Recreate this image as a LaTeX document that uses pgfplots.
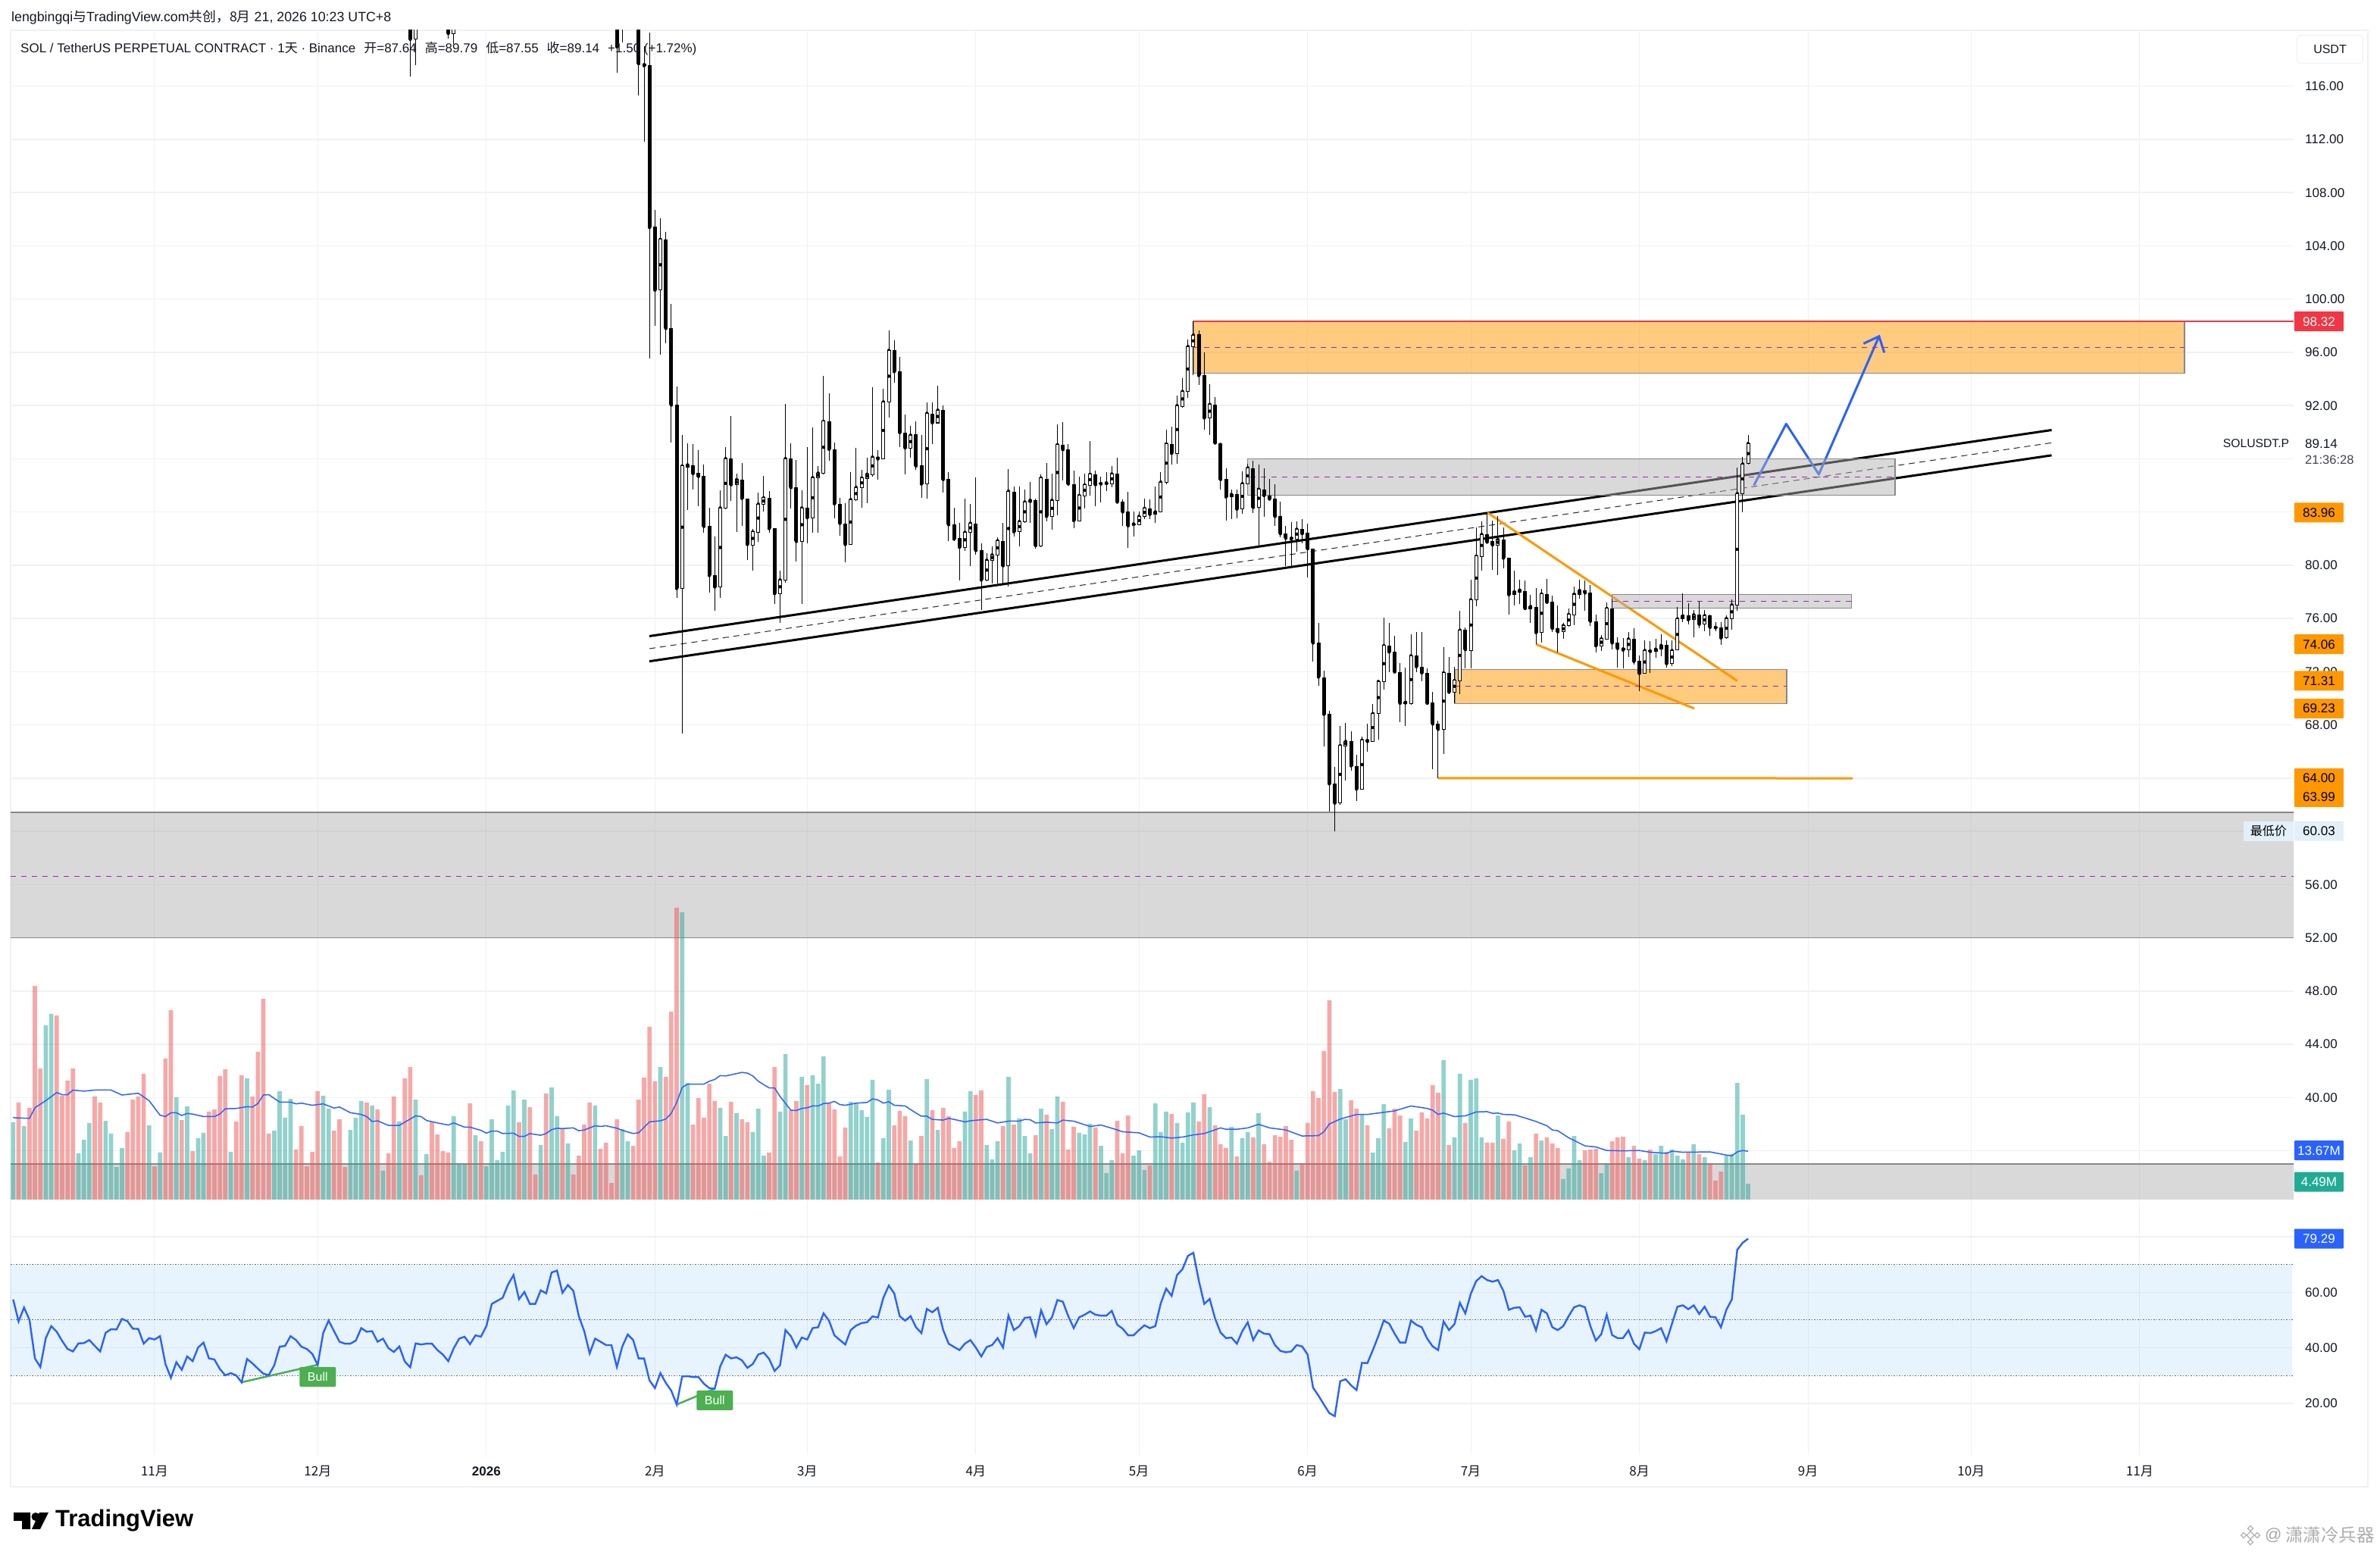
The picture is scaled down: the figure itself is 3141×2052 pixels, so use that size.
\documentclass[border=0pt]{standalone}
\usepackage{fontspec}
\setmainfont{Liberation Sans}
\newfontfamily\cjk{Noto Sans CJK SC}
\usepackage{pgfplots}
\usepackage{pgfplotstable}
\pgfplotsset{compat=1.18}
\usetikzlibrary{arrows.meta}
\definecolor{gridc}{HTML}{EFF1F4}
\definecolor{txt}{HTML}{131722}
\definecolor{tvred}{HTML}{EF5350}
\definecolor{tvteal}{HTML}{26A69A}
\definecolor{tvblue}{HTML}{2962FF}
\definecolor{tvorange}{HTML}{FF9800}
\definecolor{tagred}{HTML}{F23645}
\definecolor{tagteal}{HTML}{22AB94}
\definecolor{lowbg}{HTML}{E3EFF9}
\definecolor{rectg}{HTML}{B0B0B0}
\definecolor{rectb}{HTML}{888888}
\definecolor{purp}{HTML}{9C27B0}
\definecolor{bull}{HTML}{4CAF50}
\definecolor{band}{HTML}{2196F3}
\newcommand{\axf}{\fontsize{17}{20}\selectfont}

\pgfplotstableread[row sep=\\]{d o h l c\\
47 121 122 116.74 119.53\\ 54 121 122 119.6 119.97\\ 85 122 123 117.03 118.96\\ 89 122 123 115.3 117.69\\ 90 117.69 119 111.8 117.54\\ 91 117.58 120 95.56 105.39\\ 92 105.45 106.7 98.0 100.68\\ 94 104.48 105.05 96.66 97.8\\ 95 97.8 99.64 89.24 92.04\\ 96 92.04 93.43 77.53 78.26\\ 99 87.52 89.11 85.71 86.89\\ 100 86.92 88.67 84.41 86.68\\ 101 86.71 87.54 82.45 82.92\\ 102 82.94 84.35 77.95 79.23\\ 103 79.23 82.18 76.59 78.37\\ 106 88.01 91.23 84.85 86.05\\ 108 86.42 87.67 82.97 85.03\\ 109 85.03 85.03 80.41 81.56\\ 113 85.06 85.58 82.45 82.76\\ 114 82.76 82.76 77.09 77.87\\ 117 88.01 89.19 84.27 85.84\\ 118 85.84 87.9 80.27 81.79\\ 120 84.3 88.85 81.66 83.57\\ 124 90.81 92.9 87.88 88.72\\ 125 88.72 89.24 83.54 84.62\\ 126 84.62 85.06 82.24 83.15\\ 127 83.15 84.67 80.22 81.56\\ 133 88.12 88.67 86.45 87.99\\ 136 96.14 96.9 93.74 94.55\\ 137 94.55 95.65 88.85 89.97\\ 138 89.97 91.33 86.84 88.82\\ 140 89.82 90.81 87.15 87.46\\ 141 87.52 89.77 85.06 86.11\\ 143 91.41 92.25 89.11 90.71\\ 145 91.65 91.99 85.45 86.45\\ 146 86.47 86.97 81.79 83.05\\ 147 83.05 84.35 81.79 81.97\\ 148 82.03 83.18 78.84 81.35\\ 151 83.15 86.58 80.77 81.11\\ 152 81.11 81.66 76.64 78.89\\ 156 81.84 83.18 78.65 79.96\\ 158 85.5 85.9 82.13 82.52\\ 162 84.88 85.01 81.27 81.48\\ 164 86.47 87.67 83.31 83.67\\ 167 89.06 90.73 86.37 88.69\\ 168 88.69 89.11 86.11 86.11\\ 169 86.11 87.1 82.79 83.36\\ 173 86.84 87.1 84.41 86.05\\ 174 86.16 86.63 84.72 86.11\\ 177 86.86 88.07 84.75 84.75\\ 178 84.75 84.93 82.97 84.01\\ 179 84.01 85.5 81.32 82.97\\ 183 84.27 84.93 83.49 83.83\\ 187 89.11 90.42 87.54 88.41\\ 192 97.35 97.66 93.56 94.26\\ 193 94.26 95.99 90.21 91.07\\ 195 92.09 92.64 89.19 89.19\\ 196 89.19 89.24 85.71 86.45\\ 197 86.47 87.28 83.33 85.14\\ 199 85.32 85.71 83.54 84.22\\ 202 87.31 87.88 83.94 84.35\\ 204 85.71 87.28 83.62 85.24\\ 205 85.24 86.5 84.98 84.98\\ 206 84.98 86.11 82.97 83.67\\ 207 83.67 84.8 82.1 82.37\\ 208 82.37 82.97 79.96 82.03\\ 209 82.1 83.23 79.96 81.97\\ 211 82.7 83.44 81.66 82.37\\ 212 82.45 83.1 79.1 81.24\\ 213 81.24 81.24 72.77 74.16\\ 214 74.16 75.65 70.94 71.6\\ 215 71.54 72.07 66.37 68.8\\ 216 68.85 69.06 61.48 63.57\\ 217 63.57 64.85 60.03 62.13\\ 220 66.76 67.54 64.54 64.93\\ 221 64.93 65.77 62.31 63.18\\ 223 66.89 68.07 65.97 66.76\\ 227 73.95 75.65 71.94 73.48\\ 228 73.48 74.68 71.99 71.99\\ 229 71.99 72.64 68.2 69.63\\ 232 73.19 75 71.94 72.38\\ 233 72.38 75 71.26 71.91\\ 234 71.91 72.25 69.63 69.63\\ 235 69.69 70.47 64.67 68.07\\ 236 68.07 68.33 64.0 67.67\\ 238 71.91 73.11 70.29 70.47\\ 241 75.17 75.33 72.25 73.66\\ 245 82.31 83.96 81.74 81.74\\ 246 81.79 83.36 79.65 81.53\\ 248 81.92 82.84 79.78 80.54\\ 249 80.54 80.54 76.27 77.79\\ 252 78.05 78.86 76.7 76.75\\ 254 76.88 78.26 74.06 74.94\\ 256 77.84 78.99 77.22 77.22\\ 257 77.27 77.69 75.0 75.26\\ 258 75.26 76.95 73.43 75\\ 263 78.1 78.86 76.56 77.92\\ 264 77.92 78.52 75.44 75.8\\ 265 75.8 76.3 73.43 73.95\\ 268 76.73 77.49 73.69 74.16\\ 269 74.16 74.58 72.3 73.75\\ 270 73.78 74.5 72.26 73.63\\ 272 74.45 75.24 72.55 72.78\\ 273 72.8 73.21 70.56 71.87\\ 275 73.59 74.3 71.92 73.52\\ 278 73.99 74.35 72.32 72.61\\ 282 76.21 77.14 75.57 75.91\\ 284 76.27 77.3 75.28 75.57\\ 286 76.21 76.29 74.68 75.34\\ 287 75.36 75.72 75.05 75.3\\ 288 75.3 75.72 74.03 74.54\\
}\candledown

\pgfplotstableread[row sep=\\]{d o h l c\\
48 119.53 121 117.58 121\\ 55 119.95 121 119.2 121\\ 86 121 122 119.3 122\\ 93 100.68 106.06 95.84 104.48\\ 97 78.26 89.77 67.33 87.46\\ 98 87.36 89.16 84.14 87.54\\ 104 78.37 85.63 77.53 84.3\\ 105 84.3 88.85 84.22 88.01\\ 107 86.05 86.9 82.5 86.42\\ 110 81.53 82.7 79.62 82.5\\ 111 82.5 85.45 81.74 84.59\\ 112 84.59 86.71 84.01 85.06\\ 115 77.87 79.62 75.65 78.89\\ 116 78.89 92.12 78.71 88.01\\ 119 81.79 85.63 77.09 84.3\\ 121 83.57 90.34 82.45 86.58\\ 122 86.58 87.46 82.45 86.92\\ 123 86.92 94.21 86.84 90.81\\ 128 81.56 86.97 81.53 84.93\\ 129 84.93 88.82 84.85 85.84\\ 130 85.84 87.15 84.33 86.55\\ 131 86.55 88.07 84.67 86.84\\ 132 86.81 93.37 86.68 88.12\\ 134 87.99 93.24 87.99 92.27\\ 135 92.27 97.66 91.12 96.14\\ 139 88.82 90.47 88.07 89.77\\ 142 86.11 92.25 85.01 91.41\\ 144 90.71 93.5 90.71 91.65\\ 149 81.35 85.01 81.08 82.47\\ 150 82.47 84.59 79.91 83.15\\ 153 78.89 80.93 78.79 80.38\\ 154 80.38 81.4 78.65 80.77\\ 155 80.77 82.1 78.65 81.84\\ 157 79.96 87.23 78.39 85.56\\ 159 82.52 85.9 81.4 83.28\\ 160 83.28 85.66 83.18 84.75\\ 161 84.75 86.24 83.18 84.88\\ 163 81.48 86.84 81.35 86.55\\ 165 83.67 86.89 82.65 84.88\\ 166 84.88 90.6 83.75 89.06\\ 170 83.36 86.63 83.36 85.24\\ 171 85.24 86.89 84.27 86.03\\ 172 86.03 89.32 85.24 86.84\\ 175 86.13 87 85.6 86.18\\ 176 86.13 87.46 85.84 86.86\\ 180 83.05 84.01 82.13 83.1\\ 181 83.05 84.01 83 83.67\\ 182 83.67 85.01 83.44 84.27\\ 184 83.83 85.92 83.18 84.01\\ 185 84.01 86.97 84.01 86.24\\ 186 86.24 90.16 86.11 89.11\\ 188 88.41 92.77 87.6 91.99\\ 189 91.94 94.08 91.86 93.06\\ 190 93.06 96.95 92.59 96.43\\ 191 96.43 98.32 94.26 97.29\\ 194 91.07 93.63 89.77 92.09\\ 198 85.14 85.71 83.49 85.32\\ 200 84.22 87.07 83.88 86.13\\ 201 86.13 87.62 86.13 87.31\\ 203 84.35 87.54 81.45 85.71\\ 210 81.97 83.28 81 82.7\\ 218 62.13 67.94 62 66.44\\ 219 66.44 68.14 63.83 66.76\\ 222 63.18 67.15 63.18 66.86\\ 224 66.76 69.58 66.7 68.85\\ 225 68.85 71.3 66.89 71.26\\ 226 71.26 76.04 70.68 73.95\\ 230 69.63 72.3 67.94 69.7\\ 231 69.63 74.81 69.5 73.19\\ 237 67.67 73.87 65.84 71.91\\ 239 70.47 72.38 69.63 71.33\\ 240 71.33 76.56 70.29 75.12\\ 242 73.61 78.92 72.25 77.4\\ 243 77.4 82.84 76.9 80.67\\ 244 80.67 83.28 79.57 82.31\\ 247 81.53 83.7 79.23 81.92\\ 250 77.79 79.62 76.95 78\\ 251 78 78.92 77.09 78.13\\ 253 76.75 77.79 75.65 76.9\\ 255 74.94 78.2 74.21 77.84\\ 259 75 75.65 74.47 75.46\\ 260 75.46 76.75 75.4 76.3\\ 261 76.3 78.39 75.5 77.82\\ 262 77.82 78.92 77.48 78.1\\ 266 73.95 74.73 73.56 74.47\\ 267 74.47 77.22 74.47 76.75\\ 271 73.65 74.98 73.12 74.45\\ 274 71.87 74.35 71.87 73.59\\ 276 73.53 74.45 73.06 73.69\\ 277 73.73 74.79 73.18 73.97\\ 279 72.61 74.35 72.44 73.59\\ 280 73.63 76.86 73.6 75.97\\ 281 75.97 77.86 75.74 76.19\\ 283 75.91 76.63 74.6 76.27\\ 285 75.57 76.63 75.05 76.21\\ 289 74.54 76.21 74.47 75.99\\ 290 75.99 77.43 75.17 77.01\\ 291 77.01 87.36 76.57 85.38\\ 292 85.38 88.12 84.0 87.6\\ 293 87.64 89.79 87.55 89.14\\
}\candleup

\pgfplotstableread[row sep=\\]{d v\\
-26 21.9\\ -24 20.8\\ -20 49.3\\ -19 52.6\\ -14 13.1\\ -13 16.9\\ -12 21.7\\ -9 22.3\\ -8 18.7\\ -7 9.2\\ -6 14.6\\ -1 21.0\\ 1 13.3\\ 4 29.0\\ 6 26.4\\ 8 17.4\\ 9 18.9\\ 14 13.5\\ 17 34.3\\ 22 19.5\\ 23 30.7\\ 24 23.2\\ 25 28.5\\ 31 29.4\\ 32 25.7\\ 36 19.7\\ 37 23.2\\ 38 27.9\\ 40 26.6\\ 42 8.2\\ 45 22.1\\ 48 28.3\\ 50 12.9\\ 55 23.6\\ 56 10.1\\ 57 9.9\\ 59 18.2\\ 61 9.4\\ 62 22.7\\ 63 11.2\\ 64 13.5\\ 65 26.6\\ 66 30.9\\ 68 28.3\\ 71 15.4\\ 73 31.7\\ 74 23.6\\ 76 15.9\\ 81 26.6\\ 86 19.9\\ 87 16.5\\ 93 37.5\\ 97 81.3\\ 98 33.0\\ 104 26.0\\ 105 18.0\\ 107 24.5\\ 110 19.1\\ 111 25.7\\ 112 12.4\\ 115 24.9\\ 116 41.2\\ 119 34.7\\ 121 35.2\\ 122 32.8\\ 123 40.5\\ 128 27.7\\ 129 27.2\\ 130 25.3\\ 131 23.4\\ 132 33.9\\ 134 17.4\\ 135 31.1\\ 139 16.7\\ 142 34.1\\ 144 19.7\\ 149 24.9\\ 150 30.7\\ 153 15.4\\ 154 11.4\\ 155 16.5\\ 157 34.7\\ 159 23.0\\ 160 18.0\\ 161 13.1\\ 163 25.7\\ 165 19.9\\ 166 29.2\\ 170 18.9\\ 171 18.4\\ 172 21.5\\ 174 15.2\\ 175 7.5\\ 176 11.2\\ 180 12.4\\ 181 13.9\\ 182 8.4\\ 184 27.2\\ 185 19.1\\ 186 24.9\\ 188 21.7\\ 189 16.1\\ 190 24.7\\ 191 27.5\\ 194 26.2\\ 198 20.6\\ 200 17.4\\ 201 19.1\\ 203 24.5\\ 210 8.2\\ 218 31.3\\ 219 22.7\\ 222 24.0\\ 224 13.3\\ 225 17.4\\ 226 27.0\\ 230 16.3\\ 231 23.0\\ 237 39.5\\ 239 17.6\\ 240 35.6\\ 242 33.9\\ 243 34.3\\ 244 17.6\\ 247 23.8\\ 250 13.9\\ 251 15.9\\ 253 12.0\\ 255 16.7\\ 259 5.8\\ 260 8.8\\ 261 18.0\\ 262 11.2\\ 266 7.5\\ 267 10.1\\ 271 12.0\\ 274 11.2\\ 276 12.9\\ 277 15.2\\ 279 14.2\\ 280 12.4\\ 281 11.4\\ 283 15.7\\ 285 12.0\\ 289 12.4\\ 290 12.9\\ 291 33.0\\ 292 24.0\\ 293 4.49\\
}\volup

\pgfplotstableread[row sep=\\]{d v\\
-25 27.5\\ -23 26.0\\ -22 60.5\\ -21 37.1\\ -18 52.1\\ -17 29.4\\ -16 33.7\\ -15 37.1\\ -11 29.2\\ -10 27.5\\ -5 19.1\\ -4 28.3\\ -3 29.2\\ -2 35.6\\ 0 9.4\\ 2 39.9\\ 3 53.6\\ 5 22.5\\ 7 13.7\\ 10 24.9\\ 11 25.5\\ 12 35.0\\ 13 36.9\\ 15 22.1\\ 16 35.2\\ 18 29.2\\ 19 41.8\\ 20 56.8\\ 21 18.7\\ 26 14.2\\ 27 20.8\\ 28 9.4\\ 29 13.5\\ 30 30.7\\ 33 19.5\\ 34 22.7\\ 35 9.2\\ 39 27.5\\ 41 25.5\\ 43 13.1\\ 44 29.2\\ 46 34.3\\ 47 37.5\\ 49 6.9\\ 51 22.1\\ 52 18.4\\ 53 13.7\\ 54 13.3\\ 58 27.2\\ 60 16.5\\ 67 21.9\\ 69 26.2\\ 70 7.1\\ 72 30.0\\ 75 19.9\\ 77 7.1\\ 78 12.4\\ 79 21.2\\ 80 27.5\\ 82 14.4\\ 83 16.1\\ 84 4.7\\ 85 22.7\\ 88 15.2\\ 89 28.3\\ 90 34.5\\ 91 48.9\\ 92 33.5\\ 94 34.7\\ 95 53.2\\ 96 82.6\\ 99 21.2\\ 100 28.7\\ 101 23.2\\ 102 32.8\\ 103 27.9\\ 106 27.7\\ 108 22.7\\ 109 21.9\\ 113 13.3\\ 114 37.5\\ 117 25.3\\ 118 27.9\\ 120 32.4\\ 124 27.2\\ 125 25.5\\ 126 12.2\\ 127 20.4\\ 133 10.5\\ 136 21.0\\ 137 25.1\\ 138 23.6\\ 140 10.1\\ 141 18.0\\ 143 25.3\\ 145 26.0\\ 146 23.6\\ 147 14.6\\ 148 16.5\\ 151 29.6\\ 152 30.9\\ 156 20.8\\ 158 21.2\\ 162 18.2\\ 164 24.0\\ 167 27.7\\ 168 14.2\\ 169 20.6\\ 173 20.4\\ 177 22.3\\ 178 13.1\\ 179 23.8\\ 183 9.7\\ 187 24.2\\ 192 22.1\\ 193 29.8\\ 195 21.0\\ 196 15.7\\ 197 14.6\\ 199 12.2\\ 202 17.6\\ 204 15.7\\ 205 10.7\\ 206 18.2\\ 207 17.8\\ 208 20.8\\ 209 16.9\\ 211 10.1\\ 212 21.7\\ 213 30.7\\ 214 28.7\\ 215 42.0\\ 216 56.4\\ 217 30.5\\ 220 28.1\\ 221 25.7\\ 223 21.0\\ 227 20.2\\ 228 25.7\\ 229 23.8\\ 232 19.5\\ 233 24.7\\ 234 23.0\\ 235 32.4\\ 236 30.2\\ 238 15.4\\ 241 21.7\\ 245 16.1\\ 246 16.1\\ 248 17.2\\ 249 22.1\\ 252 9.7\\ 254 18.7\\ 256 17.6\\ 257 15.9\\ 258 14.6\\ 263 13.9\\ 264 14.2\\ 265 14.4\\ 268 16.5\\ 269 17.6\\ 270 17.8\\ 272 15.2\\ 273 11.6\\ 275 14.2\\ 278 13.5\\ 282 13.5\\ 284 12.9\\ 286 10.1\\ 287 5.4\\ 288 7.9\\
}\voldown

\pgfplotstableread[row sep=\\]{d m\\
-26 23.2\\ -25 23.1\\ -23 23.0\\ -22 26.0\\ -20 28.0\\ -18 30.3\\ -17 29.7\\ -16 29.7\\ -15 31.0\\ -13 30.7\\ -11 31.0\\ -8 31.0\\ -6 29.6\\ -3 30.1\\ -1 28.0\\ 1 23.9\\ 2 23.5\\ 3 24.6\\ 4 24.6\\ 5 23.8\\ 6 24.4\\ 7 24.2\\ 9 23.5\\ 11 23.5\\ 12 24.2\\ 13 25.7\\ 15 25.8\\ 17 26.3\\ 18 26.2\\ 19 27.2\\ 20 29.6\\ 21 29.7\\ 23 27.6\\ 25 27.6\\ 26 27.1\\ 27 27.3\\ 29 26.7\\ 31 27.1\\ 33 25.9\\ 34 26.2\\ 36 24.6\\ 38 24.1\\ 39 23.5\\ 40 22.1\\ 41 22.3\\ 43 21.0\\ 45 21.0\\ 48 23.7\\ 49 23.5\\ 50 22.4\\ 52 21.7\\ 54 21.1\\ 55 21.7\\ 57 20.5\\ 58 20.5\\ 60 19.6\\ 61 18.8\\ 62 19.4\\ 63 19.4\\ 64 18.7\\ 66 18.8\\ 67 17.9\\ 68 17.9\\ 69 18.7\\ 71 18.2\\ 72 18.7\\ 73 19.8\\ 74 20.2\\ 75 20.1\\ 77 20.3\\ 78 19.5\\ 79 19.7\\ 81 20.9\\ 82 20.7\\ 83 20.9\\ 85 20.2\\ 86 19.6\\ 88 18.7\\ 89 18.9\\ 91 22.0\\ 93 22.3\\ 94 22.8\\ 95 24.4\\ 96 27.5\\ 97 31.7\\ 98 32.7\\ 101 32.7\\ 102 33.5\\ 103 34.0\\ 104 35.1\\ 105 35.0\\ 108 36.0\\ 109 35.8\\ 110 35.0\\ 111 33.5\\ 113 31.6\\ 114 31.6\\ 115 29.2\\ 117 25.3\\ 118 25.2\\ 119 25.8\\ 120 26.0\\ 121 26.5\\ 122 26.5\\ 123 27.2\\ 124 27.3\\ 125 27.8\\ 126 26.9\\ 127 26.7\\ 129 27.3\\ 131 27.5\\ 132 28.5\\ 133 28.2\\ 134 27.3\\ 135 27.7\\ 136 26.7\\ 138 26.5\\ 140 24.5\\ 141 23.6\\ 142 23.6\\ 143 22.7\\ 145 22.5\\ 146 23.0\\ 147 22.7\\ 149 22.0\\ 150 22.3\\ 152 22.6\\ 153 22.7\\ 155 21.7\\ 157 22.2\\ 159 22.2\\ 160 22.7\\ 161 22.6\\ 162 21.7\\ 164 21.9\\ 166 21.7\\ 167 22.5\\ 169 22.2\\ 171 21.2\\ 172 20.7\\ 174 21.1\\ 176 20.2\\ 178 19.2\\ 181 18.9\\ 183 17.7\\ 185 17.8\\ 187 17.4\\ 189 17.7\\ 191 18.3\\ 193 18.7\\ 196 20.3\\ 197 19.9\\ 199 19.9\\ 201 20.3\\ 203 21.3\\ 205 20.3\\ 208 19.7\\ 211 18.0\\ 214 18.1\\ 215 19.2\\ 216 21.4\\ 218 22.8\\ 221 24.1\\ 223 24.1\\ 225 24.5\\ 228 25.1\\ 231 26.5\\ 234 25.8\\ 235 25.3\\ 236 24.1\\ 237 24.5\\ 239 23.5\\ 241 23.7\\ 243 24.8\\ 245 24.9\\ 246 24.4\\ 247 24.5\\ 248 24.1\\ 250 24.0\\ 252 23.1\\ 254 22.1\\ 256 20.9\\ 257 19.7\\ 258 19.5\\ 260 17.5\\ 263 15.2\\ 265 14.9\\ 267 13.9\\ 270 13.8\\ 273 13.9\\ 275 13.4\\ 278 13.1\\ 279 13.7\\ 281 13.4\\ 286 13.5\\ 289 12.6\\ 290 12.4\\ 291 13.5\\ 292 13.9\\ 293 13.67\\
}\volma

\pgfplotstableread[row sep=\\]{d r\\
-26 57.4\\ -25 49.5\\ -24 54.5\\ -23 50.1\\ -22 36.2\\ -21 33.1\\ -20 43.5\\ -19 47.8\\ -18 45.8\\ -17 42.5\\ -16 39.6\\ -15 38.7\\ -14 41.6\\ -13 41.7\\ -12 42.8\\ -11 40.7\\ -10 38.7\\ -9 45.4\\ -8 46.7\\ -7 46.6\\ -6 50.4\\ -5 49.6\\ -4 46.9\\ -3 46.8\\ -2 41.5\\ -1 43.5\\ 0 43.0\\ 1 44.2\\ 2 34.2\\ 3 29.2\\ 4 34.8\\ 5 32.1\\ 6 36.9\\ 7 35.2\\ 8 40.1\\ 9 41.9\\ 10 36.2\\ 11 35.8\\ 12 32.4\\ 13 30.1\\ 14 30.9\\ 15 30.1\\ 16 27.6\\ 17 36.0\\ 18 34.4\\ 19 32.5\\ 20 30.7\\ 21 30.2\\ 22 33.7\\ 23 40.4\\ 24 40.7\\ 25 44.2\\ 26 42.8\\ 27 40.4\\ 28 39.6\\ 29 37.8\\ 30 33.9\\ 31 45.3\\ 32 49.8\\ 33 46.0\\ 34 42.2\\ 35 41.5\\ 36 41.5\\ 37 42.6\\ 38 47.1\\ 39 45.8\\ 40 46.0\\ 41 42.2\\ 42 43.3\\ 43 39.9\\ 44 38.5\\ 45 40.5\\ 46 35.1\\ 47 33.0\\ 48 41.6\\ 49 41.2\\ 50 41.5\\ 51 41.5\\ 52 39.2\\ 53 37.6\\ 54 35.2\\ 55 39.8\\ 56 43.3\\ 57 44.0\\ 58 41.3\\ 59 44.5\\ 60 44.0\\ 61 47.8\\ 62 55.8\\ 63 56.9\\ 64 58.0\\ 65 62.8\\ 66 66.2\\ 67 57.5\\ 68 60.1\\ 69 55.8\\ 70 55.8\\ 71 60.7\\ 72 59.6\\ 73 67.1\\ 74 67.8\\ 75 59.8\\ 76 62.6\\ 77 60.5\\ 78 51.4\\ 79 46.0\\ 80 38.0\\ 81 43.3\\ 82 42.2\\ 83 41.0\\ 84 41.0\\ 85 33.1\\ 86 40.5\\ 87 44.8\\ 88 42.8\\ 89 36.2\\ 90 36.2\\ 91 28.3\\ 92 25.5\\ 93 30.9\\ 94 27.4\\ 95 24.6\\ 96 19.6\\ 97 29.7\\ 98 29.8\\ 99 29.5\\ 100 29.5\\ 101 27.1\\ 102 25.5\\ 103 25.3\\ 104 33.3\\ 105 37.5\\ 106 36.2\\ 107 36.6\\ 108 35.5\\ 109 32.8\\ 110 34.2\\ 111 37.6\\ 112 38.3\\ 113 36.0\\ 114 31.7\\ 115 33.7\\ 116 46.4\\ 117 44.2\\ 118 40.1\\ 119 43.7\\ 120 43.0\\ 121 47.1\\ 122 47.4\\ 123 52.4\\ 124 49.8\\ 125 44.5\\ 126 42.8\\ 127 41.2\\ 128 46.4\\ 129 48.0\\ 130 48.9\\ 131 49.2\\ 132 51.3\\ 133 50.9\\ 134 58.0\\ 135 62.4\\ 136 59.6\\ 137 51.4\\ 138 49.8\\ 139 51.4\\ 140 47.4\\ 141 45.3\\ 142 54.0\\ 143 52.8\\ 144 54.4\\ 145 46.4\\ 146 41.5\\ 147 40.3\\ 148 39.2\\ 149 41.5\\ 150 42.8\\ 151 40.1\\ 152 36.9\\ 153 40.3\\ 154 41.0\\ 155 43.5\\ 156 40.1\\ 157 51.6\\ 158 46.4\\ 159 47.8\\ 160 50.8\\ 161 51.0\\ 162 44.4\\ 163 53.5\\ 164 48.5\\ 165 51.0\\ 166 57.2\\ 167 56.6\\ 168 51.4\\ 169 47.1\\ 170 51.0\\ 171 51.9\\ 172 53.1\\ 173 51.9\\ 174 51.6\\ 175 51.6\\ 176 53.3\\ 177 48.3\\ 178 46.9\\ 179 44.5\\ 180 44.5\\ 181 46.4\\ 182 48.1\\ 183 47.1\\ 184 47.8\\ 185 56.0\\ 186 61.3\\ 187 58.7\\ 188 66.2\\ 189 68.3\\ 190 73.1\\ 191 74.2\\ 192 64.2\\ 193 55.8\\ 194 57.6\\ 195 50.5\\ 196 45.5\\ 197 43.5\\ 198 43.7\\ 199 41.5\\ 200 46.0\\ 201 49.2\\ 202 42.8\\ 203 46.3\\ 204 45.1\\ 205 44.9\\ 206 41.0\\ 207 38.9\\ 208 38.4\\ 209 38.7\\ 210 41.0\\ 211 40.5\\ 212 37.6\\ 213 25.7\\ 214 22.8\\ 215 19.6\\ 216 16.5\\ 217 15.4\\ 218 28.0\\ 219 28.7\\ 220 26.5\\ 221 24.8\\ 222 34.6\\ 223 34.5\\ 224 39.2\\ 225 44.2\\ 226 49.8\\ 227 48.7\\ 228 45.1\\ 229 41.9\\ 230 41.9\\ 231 49.8\\ 232 48.3\\ 233 47.4\\ 234 43.3\\ 235 40.5\\ 236 39.2\\ 237 49.5\\ 238 46.4\\ 239 48.5\\ 240 56.2\\ 241 52.4\\ 242 59.4\\ 243 64.0\\ 244 65.8\\ 245 64.4\\ 246 63.8\\ 247 64.4\\ 248 60.5\\ 249 53.7\\ 250 54.4\\ 251 54.6\\ 252 51.2\\ 253 51.6\\ 254 46.3\\ 255 53.7\\ 256 52.4\\ 257 47.4\\ 258 46.4\\ 259 47.8\\ 260 51.4\\ 261 54.6\\ 262 55.3\\ 263 54.6\\ 264 47.8\\ 265 42.6\\ 266 44.9\\ 267 51.9\\ 268 44.6\\ 269 43.5\\ 270 43.5\\ 271 46.3\\ 272 41.5\\ 273 39.5\\ 274 45.5\\ 275 45.3\\ 276 46.0\\ 277 47.1\\ 278 42.4\\ 279 48.7\\ 280 54.8\\ 281 55.3\\ 282 53.9\\ 283 55.3\\ 284 52.2\\ 285 54.8\\ 286 51.2\\ 287 51.0\\ 288 47.4\\ 289 53.7\\ 290 57.4\\ 291 75.3\\ 292 77.8\\ 293 79.29\\
}\rsidata

\pgfplotsset{
  paneaxis/.style={
    scale only axis, anchor=south west,
    xmin=-26.47, xmax=393.3,
    width=3013pt,
    major tick length=0pt,
    tick style={draw=none},
    axis line style={draw=none},
  },
  wick/.style={only marks, mark=none, draw=none,
    error bars/.cd, y dir=both, y explicit, error mark=none,
    error bar style={black, line width=1pt}},
}
\newcommand{\ptag}[4]{\node[fill=#3,text=#4,anchor=west,minimum width=65pt,minimum height=26pt,inner sep=0pt,rounded corners=1pt,font=\axf] at (axis cs:393.4,#1) {#2};}

\begin{document}
\begin{tikzpicture}[x=1pt,y=1pt]
\path[use as bounding box,fill=white] (0,0) rectangle (3141pt,2052pt);
% frame
\draw[gridc,line width=2pt] (14pt,90pt) rectangle (3125pt,2012pt);

% ---- price: grid, drawings, zones
\begin{axis}[paneaxis, at={(14pt,469pt)}, height=1543pt,
  ymin=32.33, ymax=120.2,
  xtick={0,30,61,92,120,151,181,212,242,273,304,334,365},
  xticklabels={},
  ytick={36,40,44,48,52,56,60,64,68,72,76,80,84,88,92,96,100,104,108,112,116},
  yticklabels={,40.00,44.00,48.00,52.00,56.00,60.00,,68.00,72.00,76.00,80.00,,,92.00,96.00,100.00,104.00,108.00,112.00,116.00},
  yticklabel pos=right,
  yticklabel style={anchor=west,xshift=15pt,inner sep=0pt,font=\axf,text=txt},
  grid=major,
  x grid style={gridc,line width=1pt},
  y grid style={gridc,line width=1.5pt},
]
% orange zones
\addplot[draw=rectb,line width=1.5pt,fill=tvorange,fill opacity=.5] coordinates {(191,98.32)(373.2,98.32)(373.2,94.44)(191,94.44)} -- cycle;
\addplot[draw=rectb,line width=1.5pt,fill=tvorange,fill opacity=.5] coordinates {(239.06,72.17)(300.1,72.17)(300.1,69.61)(239.06,69.61)} -- cycle;
% trend channel
\addplot[black,line width=3pt] coordinates {(90.97,74.67)(348.8,90.16)};
\addplot[black,line width=3pt] coordinates {(90.97,72.78)(348.8,88.26)};
\addplot[black!85,line width=1pt,dash pattern=on 8pt off 6pt] coordinates {(90.97,73.73)(348.8,89.2)};
% orange wedge and support line
\addplot[tvorange,line width=3pt] coordinates {(245.05,83.96)(291,71.31)};
\addplot[tvorange,line width=3pt] coordinates {(254,74.06)(283.1,69.23)};
\addplot[tvorange,line width=3pt] coordinates {(236,64.0)(312.2,63.99)};
% projected path
\addplot[tvblue,line width=3pt,line join=round,-{Straight Barb[length=17pt,width=30pt]}] coordinates {(294.05,86.0)(300,90.62)(306,86.83)(317.2,97.32)};
% grey zones
\addplot[draw=rectb,line width=1.5pt,fill=rectg,fill opacity=.48] coordinates {(-30,61.42)(400,61.42)(400,52)(-30,52)} -- cycle;
\addplot[draw=rectb,line width=1.5pt,fill=rectg,fill opacity=.48] coordinates {(-30,35.0)(400,35.0)(400,30)(-30,30)} -- cycle;
\addplot[draw=rectb,line width=1.5pt,fill=rectg,fill opacity=.48] coordinates {(201,88.0)(320,88.0)(320,85.27)(201,85.27)} -- cycle;
\addplot[draw=rectb,line width=1.5pt,fill=rectg,fill opacity=.48] coordinates {(268,77.81)(312,77.81)(312,76.79)(268,76.79)} -- cycle;
% zone mid lines
\addplot[purp,line width=1pt,dash pattern=on 7pt off 7pt] coordinates {(-26.47,56.64)(393.3,56.64)};
\addplot[purp,line width=1pt,dash pattern=on 7pt off 7pt] coordinates {(201.5,86.62)(320,86.62)};
\addplot[purp,line width=1pt,dash pattern=on 7pt off 7pt] coordinates {(268,77.3)(312,77.3)};
\addplot[purp,line width=1pt,dash pattern=on 7pt off 7pt] coordinates {(191,96.36)(373.2,96.36)};
\addplot[purp,line width=1pt,dash pattern=on 7pt off 7pt] coordinates {(239.06,70.92)(300.1,70.92)};
\addplot[tagred,line width=2pt] coordinates {(191,98.32)(393.3,98.32)};
\end{axis}

% ---- volume
\begin{axis}[paneaxis, at={(14pt,469pt)}, height=1543pt, hide axis, ymin=0, ymax=331]
\addplot[ybar,bar width=5.7pt,bar shift=0pt,draw=none,fill=tvteal,fill opacity=.5] table[x=d,y=v]{\volup};
\addplot[ybar,bar width=5.7pt,bar shift=0pt,draw=none,fill=tvred,fill opacity=.5] table[x=d,y=v]{\voldown};
\addplot[tvblue,line width=1.5pt] table[x=d,y=m]{\volma};
\end{axis}

% ---- candles and price tags
\begin{axis}[paneaxis, at={(14pt,469pt)}, height=1543pt, hide axis, ymin=32.33, ymax=120.2, clip mode=individual]
\addplot[wick] table[x=d,y=c,y error plus expr=\thisrow{h}-\thisrow{c},y error minus expr=\thisrow{c}-\thisrow{l}]{\candleup};
\addplot[wick] table[x=d,y=c,y error plus expr=\thisrow{h}-\thisrow{c},y error minus expr=\thisrow{c}-\thisrow{l}]{\candledown};
\addplot[only marks,mark=none,draw=none,error bars/.cd,y dir=both,y explicit,error mark=none,error bar style={black,line width=5pt}]
  table[x=d,y expr=(\thisrow{o}+\thisrow{c})/2,y error expr={max(abs(\thisrow{o}-\thisrow{c})/2,0.05)}]{\candledown};
\addplot[only marks,mark=none,draw=none,error bars/.cd,y dir=both,y explicit,error mark=none,error bar style={black,line width=5pt}]
  table[x=d,y expr=(\thisrow{o}+\thisrow{c})/2,y error expr={max(abs(\thisrow{o}-\thisrow{c})/2+0.04,0.07)}]{\candleup};
\addplot[only marks,mark=none,draw=none,error bars/.cd,y dir=both,y explicit,error mark=none,error bar style={white,line width=3pt}]
  table[x=d,y expr=(\thisrow{o}+\thisrow{c})/2,y error expr={max(abs(\thisrow{o}-\thisrow{c})/2-0.02,0)}]{\candleup};

\ptag{98.32}{98.32}{tagred}{white}
\ptag{83.96}{83.96}{tvorange}{black}
\ptag{74.06}{74.06}{tvorange}{black}
\ptag{71.31}{71.31}{tvorange}{black}
\ptag{69.23}{69.23}{tvorange}{black}
\ptag{64.00}{64.00}{tvorange}{black}
\ptag{62.57}{63.99}{tvorange}{black}
\ptag{60.03}{60.03}{lowbg}{black}
\node[fill=lowbg,text=black,anchor=east,minimum width=66pt,minimum height=26pt,inner sep=0pt,font=\cjk\fontsize{16}{18}\selectfont] at (axis cs:393.3,60.03) {最低价};
\node[anchor=east,inner sep=0pt,text=txt,font=\fontsize{15.7}{18}\selectfont] at (axis cs:392.5,89.13) {SOLUSDT.P};
\node[anchor=west,inner sep=0pt,xshift=15pt,text=txt,font=\axf] at (axis cs:393.3,89.13) {89.14};
\node[anchor=west,inner sep=0pt,xshift=15pt,text=txt!80,font=\fontsize{16.5}{18}\selectfont] at (axis cs:393.3,87.9) {21:36:28};
\end{axis}

% ---- tags on the volume scale
\begin{axis}[paneaxis, at={(14pt,469pt)}, height=1543pt, hide axis, ymin=0, ymax=331, clip mode=individual]
\addplot[draw=none] coordinates {(293,13.67)};
\ptag{13.9}{13.67M}{tvblue}{white}
\ptag{4.99}{4.49M}{tagteal}{white}
\end{axis}

% ---- RSI
\begin{axis}[paneaxis, at={(14pt,132pt)}, height=335pt,
  ymin=1.45, ymax=92.8,
  xtick={0,30,61,92,120,151,181,212,242,273,304,334,365},
  xticklabels={{\cjk 11月},{\cjk 12月},{\bfseries 2026},{\cjk 2月},{\cjk 3月},{\cjk 4月},{\cjk 5月},{\cjk 6月},{\cjk 7月},{\cjk 8月},{\cjk 9月},{\cjk 10月},{\cjk 11月}},
  xticklabel style={anchor=center,yshift=-22pt,font=\axf,text=txt,inner sep=0pt},
  ytick={20,40,60,80},
  yticklabels={20.00,40.00,60.00,},
  yticklabel pos=right,
  yticklabel style={anchor=west,xshift=15pt,inner sep=0pt,font=\axf,text=txt},
  grid=major,
  x grid style={gridc,line width=1pt},
  y grid style={gridc,line width=1.5pt},
  clip mode=individual,
]
\addplot[draw=none,fill=band,fill opacity=.1] coordinates {(-26.47,70)(393,70)(393,30)(-26.47,30)} -- cycle;
\addplot[black!60,line width=1pt,dash pattern=on 1.5pt off 2pt] coordinates {(-26.47,70)(393.3,70)};
\addplot[black!60,line width=1pt,dash pattern=on 1.5pt off 2pt] coordinates {(-26.47,50)(393.3,50)};
\addplot[black!60,line width=1pt,dash pattern=on 1.5pt off 2pt] coordinates {(-26.47,30)(393.3,30)};
\addplot[bull,line width=2.5pt] coordinates {(16,27.6)(30,33.9)};
\addplot[bull,line width=2.5pt] coordinates {(96,19.6)(103,25.3)};
\addplot[tvblue,line width=2.4pt] table[x=d,y=r]{\rsidata};
\node[fill=bull,text=white,minimum width=48pt,minimum height=26pt,inner sep=0pt,rounded corners=2pt,font=\fontsize{16}{18}\selectfont] at (axis cs:30,29.55) {Bull};
\node[fill=bull,text=white,minimum width=48pt,minimum height=26pt,inner sep=0pt,rounded corners=2pt,font=\fontsize{16}{18}\selectfont] at (axis cs:103,21.1) {Bull};
\ptag{79.29}{79.29}{tvblue}{white}
\end{axis}

% ---- texts around the chart
\node[anchor=west,inner sep=0pt,text=txt,font=\fontsize{17.8}{20}\selectfont] at (15pt,2029pt) {lengbingqi{\cjk 与}TradingView.com{\cjk 共创，8月} 21, 2026 10:23 UTC+8};
\node[anchor=west,inner sep=0pt,text=txt,font=\fontsize{17}{20}\selectfont] at (27pt,1988pt) {SOL / TetherUS PERPETUAL CONTRACT · 1{\cjk 天} · Binance\hspace{11pt}{\cjk 开}=87.64\hspace{11pt}{\cjk 高}=89.79\hspace{11pt}{\cjk 低}=87.55\hspace{11pt}{\cjk 收}=89.14\hspace{11pt}+1.50 (+1.72\%)};
\node[draw=gridc,line width=1pt,rounded corners=4pt,minimum width=87pt,minimum height=37pt,inner sep=0pt,text=txt,font=\fontsize{16}{18}\selectfont] at (3075pt,1987pt) {USDT};
% logo
\fill[black] (18pt,56pt) -- (40pt,56pt) -- (40pt,34pt) -- (29pt,34pt) -- (29pt,45pt) -- (18pt,45pt) -- cycle;
\fill[black] (47pt,50.5pt) circle (5.5pt);
\fill[black] (53pt,34pt) -- (64pt,56pt) -- (52pt,56pt) -- (42pt,34pt) -- cycle;
\node[anchor=west,inner sep=0pt,text=black,font=\bfseries\fontsize{31}{33}\selectfont] at (73pt,45pt) {TradingView};
% watermark
\foreach \cx/\cy/\r in {2970/26/5,2961/26/3.5,2979/26/3.5,2970/35/3.5,2970/17/3.5}
  \draw[black!30,line width=1.3pt] (\cx pt+\r pt,\cy pt) -- (\cx pt,\cy pt+\r pt) -- (\cx pt-\r pt,\cy pt) -- (\cx pt,\cy pt-\r pt) -- cycle;
\node[anchor=west,inner sep=0pt,text=black!35,font=\fontsize{22}{24}\selectfont] at (2989pt,26pt) {@};
\node[anchor=west,inner sep=0pt,text=black!32,font=\cjk\fontsize{23.5}{26}\selectfont] at (3016pt,26pt) {潇潇冷兵器};
\end{tikzpicture}
\end{document}
